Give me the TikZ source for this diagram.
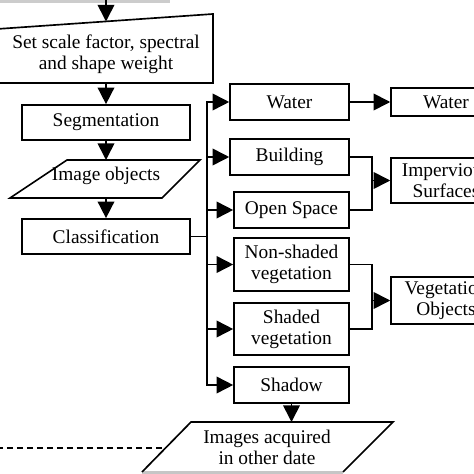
\documentclass[tikz,border=0pt]{standalone}
\usepackage{fontspec}
\setmainfont{Liberation Serif}
\usetikzlibrary{arrows.meta,positioning,calc}

\begin{document}
\begin{tikzpicture}[
  x=0.254mm, y=-0.254mm,
  txt/.style={align=center, inner sep=0pt, font=\fontsize{14}{15.2}\selectfont},
  pbox/.style={rectangle, draw, line width=1.2pt, txt,
               minimum width=42.7mm, minimum height=8.9mm},
  cbox/.style={rectangle, draw, line width=1.2pt, txt,
               minimum width=29.2mm, minimum height=9.1mm},
  obox/.style={rectangle, draw, line width=1.2pt, txt,
               minimum width=27.9mm},
  shp/.style={line width=1.2pt, line join=miter},
  line/.style={line width=1.2pt},
  arr/.style={-{Triangle[length=12pt,width=12pt]}, line width=1.2pt},
  dline/.style={line width=1.2pt, dash pattern=on 4.3pt off 2.9pt}
]
\useasboundingbox (0,0) rectangle (474,474);
\clip (0,0) rectangle (474,474);

% Leftovers of the shapes cut by the frame
\fill[gray!40] (0,0) rectangle (170,3);
\fill[gray!45] (142,471) rectangle (343,476);

% Left column
\coordinate (in) at (106,-5);
\draw[shp] (-3,29) -- (213,14) -- (213,83) -- (-3,83) -- cycle;
\node[txt] (setscale) at (106,54) {Set scale factor, spectral\\and shape weight};
\coordinate (settop) at (106,21.5);
\coordinate (setbot) at (106,83);

\node[pbox] (seg) at (106,122.5) {Segmentation};

\draw[shp] (67,160) -- (200,160) -- (162,198) -- (10,198) -- cycle;
\node[txt] (imgobj) at (106,176) {Image objects};
\coordinate (imgobjN) at (106,160);
\coordinate (imgobjS) at (106,198);

\node[pbox] (cls) at (106,236.5) {Classification};

% Classes
\node[cbox, minimum width=30.2mm] (water)    at (289.5,102)   {Water};
\node[cbox, minimum width=30.2mm] (building) at (289.5,157)   {Building};
\node[cbox]                       (open)     at (291.5,210)   {Open Space};
\node[cbox, minimum height=13.5mm] (nonshd)  at (291.5,264.5) {Non-shaded\\vegetation};
\node[cbox, minimum height=13.2mm] (shd)     at (291.5,329)   {Shaded\\vegetation};
\node[cbox]                       (shadow)   at (291.5,385)   {Shadow};

% Merged objects
\node[obox, minimum height=7.1mm]  (waterobj) at (446,102)   {Water};
\node[obox, minimum height=11.4mm] (imperv)   at (446,180.5) {Impervious\\Surfaces};
\node[obox, minimum height=11.9mm] (vegobj)   at (446,300.5) {Vegetation\\Objects};

% Images of the other date
\draw[shp] (142,472) -- (191,422) -- (393,422) -- (343,472);
\node[txt] (imgdate) at (267,447) {Images acquired\\in other date};
\coordinate (imgdateN) at (292,422);
\coordinate (imgdateW) at (165.5,448);
\coordinate (prev) at (-3,448);

% Arrows
\draw[arr] (in) -- (settop);
\draw[arr] (setbot) -- (seg.north);
\draw[arr] (seg.south) -- (imgobjN);
\draw[arr] (imgobjS) -- (cls.north);

\draw[arr] (cls.east) -- ++(16,0) |- (water.west);
\draw[arr] (cls.east) -- ++(16,0) |- (building.west);
\draw[arr] (cls.east) -- ++(16,0) |- (open.west);
\draw[arr] (cls.east) -- ++(16,0) |- (nonshd.west);
\draw[arr] (cls.east) -- ++(16,0) |- (shd.west);
\draw[arr] (cls.east) -- ++(16,0) |- (shadow.west);

\draw[arr] (water.east) -- (waterobj.west);

\coordinate (jimp) at ($(building.east)+(22,0)$);
\draw[line] (building.east) -- (jimp) |- (open.east);
\draw[arr] (imperv.west -| jimp) -- (imperv.west);

\coordinate (jveg) at ($(nonshd.east)+(22,0)$);
\draw[line] (nonshd.east) -- (jveg) |- (shd.east);
\draw[arr] (vegobj.west -| jveg) -- (vegobj.west);

\draw[arr] (shadow.south) -- (shadow.south |- imgdateN);
\draw[dline] (prev) -- (imgdateW);
\end{tikzpicture}
\end{document}
